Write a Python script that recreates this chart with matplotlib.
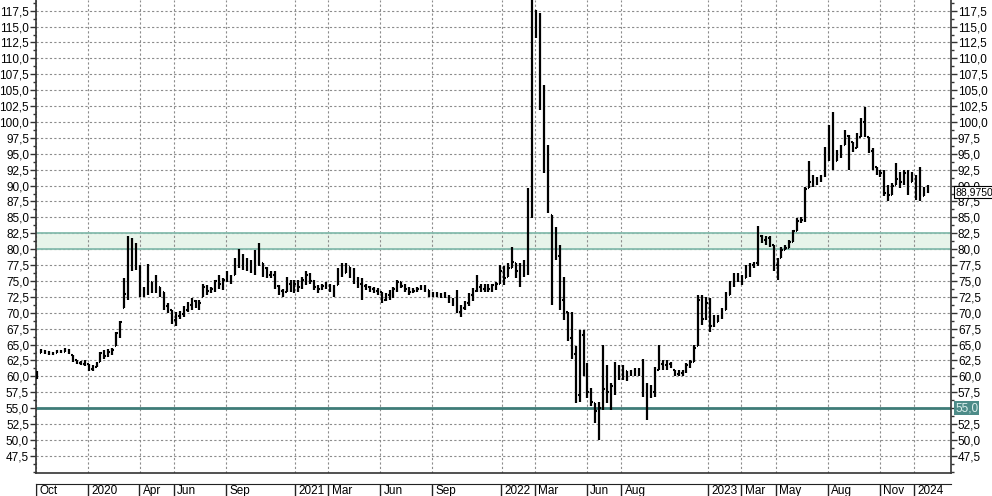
import numpy as np
import pandas as pd
import matplotlib
matplotlib.use("Agg")
import matplotlib.pyplot as plt
import matplotlib.dates as mdates
import matplotlib.transforms as mtransforms
from matplotlib.ticker import MultipleLocator, FixedLocator, FuncFormatter

# weekly OHLC bars, Oct 2019 -> Jan 2024
first_week = "2019-10-03"

opens = [
    60.2, 60.5, 64.0, 63.8, 63.6, 63.5, 64.0, 63.9, 64.2, 63.7,
    62.5, 62.1, 62.0, 62.2, 61.2, 61.5, 62.0, 63.6, 63.2, 63.9,
    64.2, 66.8, 68.5, 73.0, 80.5, 78.0, 77.0, 73.5, 73.8, 75.0,
    74.5, 74.0, 73.5, 71.0, 70.5, 68.8, 69.5, 69.8, 70.5, 71.2,
    71.8, 71.5, 71.5, 74.0, 73.5, 73.8, 75.0, 74.5, 75.2, 75.5,
    75.5, 78.0, 78.5, 77.5, 78.0, 76.8, 79.5, 78.0, 77.0, 76.0,
    76.0, 74.2, 73.5, 73.2, 74.5, 74.0, 74.5, 74.0, 75.2, 76.0,
    75.0, 74.0, 73.8, 74.2, 74.0, 73.6, 74.2, 76.5, 76.2, 77.2,
    75.8, 75.5, 74.5, 74.2, 74.0, 73.8, 73.5, 73.2, 72.0, 72.8,
    72.5, 73.8, 74.8, 74.2, 73.8, 73.2, 73.5, 73.8, 74.0, 73.6,
    72.8, 73.0, 72.8, 72.6, 72.5, 71.8, 71.2, 70.2, 70.8, 71.5,
    72.8, 73.5, 74.0, 73.8, 74.2, 73.8, 74.3, 74.5, 76.5, 75.5,
    77.0, 78.0, 76.5, 76.0, 77.5, 88.5, 113.5, 114.5, 105.5, 93.0,
    86.5, 80.0, 79.0, 72.0, 70.5, 66.0, 63.5, 57.0, 66.5, 61.0,
    57.5, 56.0, 54.5, 55.0, 58.0, 57.5, 58.5, 61.5, 60.0, 61.0,
    60.5, 60.8, 61.0, 60.5, 58.0, 57.0, 57.5, 61.0, 62.0, 61.8,
    62.0, 61.5, 60.3, 60.5, 60.8, 61.8, 62.3, 64.5, 72.0, 69.0,
    71.5, 68.0, 68.5, 69.5, 70.5, 72.8, 74.3, 75.5, 75.8, 75.2,
    77.0, 77.5, 77.8, 82.0, 81.5, 81.8, 80.8, 77.5, 78.2, 79.8,
    80.2, 81.2, 82.8, 84.5, 84.6, 89.5, 90.5, 90.2, 91.0, 91.5,
    95.5, 99.0, 93.5, 95.0, 95.8, 97.8, 97.0, 95.8, 97.5, 100.0,
    98.0, 95.5, 93.0, 92.0, 92.0, 88.8, 88.5, 90.0, 91.0, 90.5,
    92.0, 90.2, 91.0, 88.0, 88.2, 89.5,
]
highs = [
    60.8, 64.3, 64.1, 64.0, 63.8, 64.2, 64.1, 64.4, 64.3, 63.4,
    62.6, 62.4, 62.6, 61.9, 61.8, 62.3, 63.9, 64.2, 64.3, 64.4,
    67.0, 68.7, 75.4, 82.0, 81.7, 80.9, 77.5, 74.1, 77.6, 74.9,
    76.0, 74.1, 73.3, 71.5, 70.4, 70.2, 70.3, 71.0, 71.7, 72.3,
    72.0, 72.0, 74.6, 74.4, 74.1, 75.2, 75.9, 75.4, 76.5, 75.9,
    78.6, 80.0, 79.2, 78.6, 78.3, 79.9, 80.9, 77.8, 77.2, 76.5,
    76.5, 74.4, 73.8, 75.7, 75.2, 75.2, 75.2, 75.7, 76.5, 76.2,
    75.2, 74.4, 74.6, 74.9, 74.6, 74.4, 77.0, 77.8, 77.8, 77.2,
    77.0, 75.7, 75.4, 74.6, 74.2, 74.1, 73.9, 73.3, 73.1, 73.6,
    74.1, 75.2, 74.9, 74.6, 74.1, 73.9, 74.1, 74.4, 74.4, 73.6,
    73.3, 73.3, 73.1, 73.3, 72.8, 72.3, 73.6, 71.2, 71.8, 73.1,
    73.9, 76.0, 74.6, 74.6, 74.6, 74.6, 74.9, 77.5, 77.3, 77.8,
    80.4, 77.8, 77.8, 78.3, 89.6, 121.0, 117.6, 117.1, 105.8, 96.4,
    85.4, 83.5, 80.7, 75.7, 70.2, 70.2, 64.7, 67.3, 67.3, 62.1,
    58.1, 55.8, 56.0, 64.9, 61.8, 58.9, 62.3, 61.8, 61.8, 60.8,
    61.0, 61.3, 61.3, 62.8, 58.9, 58.6, 61.5, 64.9, 62.6, 62.6,
    62.3, 61.0, 61.0, 61.0, 62.1, 62.6, 64.9, 72.8, 72.8, 72.5,
    72.3, 69.7, 69.7, 70.7, 73.3, 75.0, 76.2, 76.2, 75.9, 77.5,
    77.8, 78.0, 83.6, 82.2, 82.0, 82.0, 80.7, 78.6, 80.4, 80.7,
    81.5, 83.0, 84.9, 85.1, 89.8, 93.8, 91.7, 91.4, 91.7, 96.1,
    99.5, 101.6, 95.6, 96.4, 98.7, 98.0, 96.9, 98.2, 100.6, 102.4,
    97.7, 95.9, 93.0, 92.5, 92.5, 90.1, 90.4, 93.5, 92.2, 92.5,
    92.5, 92.2, 91.7, 93.0, 89.8, 90.1,
]
lows = [
    59.6, 63.6, 63.5, 63.3, 63.3, 63.6, 63.6, 63.8, 63.5, 62.3,
    61.9, 61.8, 61.7, 60.9, 60.9, 61.4, 62.3, 62.8, 63.1, 63.3,
    64.7, 66.0, 70.7, 72.0, 76.5, 76.7, 72.5, 72.5, 72.8, 73.1,
    73.1, 72.5, 70.4, 69.9, 68.2, 68.0, 69.1, 69.4, 70.2, 70.4,
    70.7, 70.4, 72.5, 72.8, 73.1, 73.3, 73.8, 73.6, 74.9, 74.6,
    75.9, 77.0, 76.7, 76.5, 76.2, 76.0, 77.3, 75.7, 75.4, 75.4,
    73.8, 72.8, 72.5, 73.3, 73.3, 73.1, 73.3, 73.8, 74.4, 74.6,
    73.6, 73.1, 73.6, 73.8, 73.3, 72.5, 74.4, 75.7, 76.2, 75.4,
    74.6, 73.9, 72.0, 73.6, 73.3, 73.1, 72.8, 71.5, 71.8, 72.0,
    72.3, 73.3, 73.9, 73.3, 72.8, 73.1, 73.3, 73.6, 73.3, 72.5,
    72.5, 72.5, 72.3, 72.3, 71.5, 71.0, 69.9, 69.4, 70.5, 71.0,
    71.8, 73.3, 73.3, 73.3, 73.3, 73.3, 73.6, 74.6, 74.4, 75.7,
    77.0, 75.4, 74.1, 75.7, 76.0, 84.9, 113.2, 101.9, 92.0, 85.7,
    71.2, 78.3, 70.5, 68.9, 65.5, 62.8, 55.8, 56.0, 60.0, 56.6,
    55.3, 52.6, 50.0, 54.7, 55.8, 54.7, 57.1, 59.4, 59.4, 59.2,
    60.0, 60.0, 60.0, 56.8, 53.2, 56.6, 56.8, 61.0, 61.0, 61.0,
    61.3, 60.0, 60.0, 60.0, 60.5, 61.3, 62.3, 64.7, 68.1, 68.9,
    67.0, 67.8, 68.6, 69.1, 70.4, 72.8, 74.1, 74.9, 74.4, 75.4,
    75.7, 77.0, 77.3, 80.9, 80.7, 80.4, 76.5, 75.2, 78.6, 79.9,
    80.2, 81.2, 82.8, 84.1, 84.3, 89.6, 89.8, 90.1, 90.6, 91.4,
    93.8, 92.5, 93.8, 94.3, 96.4, 92.5, 95.3, 95.9, 97.7, 97.7,
    95.1, 92.5, 91.7, 91.4, 88.3, 87.5, 88.5, 90.1, 89.6, 90.1,
    88.5, 90.6, 87.7, 87.5, 88.3, 88.8,
]
closes = [
    60.5, 64.0, 63.8, 63.6, 63.5, 64.0, 63.9, 64.2, 63.7, 62.5,
    62.1, 62.0, 62.2, 61.2, 61.5, 62.0, 63.6, 63.2, 63.9, 64.2,
    66.8, 68.5, 73.0, 80.5, 78.0, 77.0, 73.5, 73.8, 75.0, 74.5,
    74.0, 73.5, 71.0, 70.5, 68.8, 69.5, 69.8, 70.5, 71.2, 71.8,
    71.5, 71.5, 74.0, 73.5, 73.8, 75.0, 74.5, 75.2, 75.5, 75.5,
    78.0, 78.5, 77.5, 78.0, 76.8, 79.5, 78.0, 77.0, 76.0, 76.0,
    74.2, 73.5, 73.2, 74.5, 74.0, 74.5, 74.0, 75.2, 76.0, 75.0,
    74.0, 73.8, 74.2, 74.0, 73.6, 74.2, 76.5, 76.2, 77.2, 75.8,
    75.5, 74.5, 74.2, 74.0, 73.8, 73.5, 73.2, 72.0, 72.8, 72.5,
    73.8, 74.8, 74.2, 73.8, 73.2, 73.5, 73.8, 74.0, 73.6, 72.8,
    73.0, 72.8, 72.6, 72.5, 71.8, 71.2, 70.2, 70.8, 71.5, 72.8,
    73.5, 74.0, 73.8, 74.2, 73.8, 74.3, 74.5, 76.5, 75.5, 77.0,
    78.0, 76.5, 76.0, 77.5, 88.5, 113.5, 114.5, 105.5, 93.0, 86.5,
    80.0, 79.0, 72.0, 70.5, 66.0, 63.5, 57.0, 66.5, 61.0, 57.5,
    56.0, 54.5, 55.0, 58.0, 57.5, 58.5, 61.5, 60.0, 61.0, 60.5,
    60.8, 61.0, 60.5, 58.0, 57.0, 57.5, 61.0, 62.0, 61.8, 62.0,
    61.5, 60.3, 60.5, 60.8, 61.8, 62.3, 64.5, 72.0, 69.0, 71.5,
    68.0, 68.5, 69.5, 70.5, 72.8, 74.3, 75.5, 75.8, 75.2, 77.0,
    77.5, 77.8, 82.0, 81.5, 81.8, 80.8, 77.5, 78.2, 79.8, 80.2,
    81.2, 82.8, 84.5, 84.6, 89.5, 90.5, 90.2, 91.0, 91.5, 95.5,
    99.0, 93.5, 95.0, 95.8, 97.8, 97.0, 95.8, 97.5, 100.0, 98.0,
    95.5, 93.0, 92.0, 92.0, 88.8, 88.5, 90.0, 91.0, 90.5, 92.0,
    90.2, 91.0, 88.0, 88.2, 89.5, 88.975,
]

month_marks = ["2019-10-01", "2020-01-01", "2020-04-01", "2020-06-01", "2020-09-01",
               "2021-01-01", "2021-03-01", "2021-06-01", "2021-09-01",
               "2022-01-01", "2022-03-01", "2022-06-01", "2022-08-01",
               "2023-01-01", "2023-03-01", "2023-05-01", "2023-08-01", "2023-11-01",
               "2024-01-01"]
month_labels = ["Oct", "2020", "Apr", "Jun", "Sep", "2021", "Mar", "Jun", "Sep",
                "2022", "Mar", "Jun", "Aug", "2023", "Mar", "May", "Aug", "Nov", "2024"]

price_ticks = [47.5, 50.0, 52.5, 55.0, 57.5, 60.0, 62.5, 65.0, 67.5, 70.0, 72.5, 75.0,
               77.5, 80.0, 82.5, 85.0, 87.5, 90.0, 92.5, 95.0, 97.5, 100.0, 102.5,
               105.0, 107.5, 110.0, 112.5, 115.0, 117.5]

last_price = 88.975
support = 55.0
zone_low, zone_high = 80.0, 82.5

plt.rcParams['font.family'] = ['Liberation Sans', 'DejaVu Sans']

dates = mdates.date2num(pd.date_range(first_week, periods=len(closes), freq="7D"))
highs = np.array(highs)
lows = np.array(lows)
opens = np.clip(opens, lows, highs)
closes = np.array(closes)
marks = mdates.date2num(pd.to_datetime(month_marks))

x0 = dates[0] - 1.8
x1 = dates[0] + 1615.7

fig = plt.figure(figsize=(9.92, 4.96), dpi=100)
ax = fig.add_axes([36 / 992, 23 / 496, 915 / 992, 473 / 496])

# support / resistance
ax.axhspan(zone_low, zone_high, color="#e7f4ea", zorder=0)
ax.axhline(zone_low, color="#86bcae", lw=1.3, zorder=1)
ax.axhline(zone_high, color="#86bcae", lw=1.3, zorder=1)
ax.axhline(support, color="#3f7c78", lw=2.0, zorder=1)

# bars
ax.vlines(dates, lows, highs, color="black", lw=1.6, zorder=3)
ax.hlines(opens, dates - 2.3, dates, color="black", lw=1.5, zorder=3)
ax.hlines(closes, dates, dates + 2.3, color="black", lw=1.5, zorder=3)

ax.set_xlim(x0, x1)
ax.set_ylim(44.81, 119.18)

ax.yaxis.set_major_locator(FixedLocator(price_ticks))
ax.yaxis.set_minor_locator(MultipleLocator(1.25))
ax.yaxis.set_major_formatter(FuncFormatter(lambda v, p: f"{v:.1f}".replace(".", ",")))
ax.tick_params(axis="y", which="major", left=True, right=True, labelleft=True,
               labelright=True, length=4, width=1, labelsize=8.5, pad=1,
               color="#333333")
ax.tick_params(axis="y", which="minor", left=True, right=True, length=2, width=1,
               color="#333333")
ax.set_xticks(marks)
ax.tick_params(axis="x", length=0, labelbottom=False)
ax.grid(True, which="major", color="#8c8c8c", lw=0.8, ls=(0, (2, 2)))
ax.set_axisbelow(True)

# the right-hand 55,0 is replaced by the highlighted marker label
for val, tick in zip(price_ticks, ax.yaxis.get_major_ticks()):
    if val == support:
        tick.label2.set_visible(False)

for side in ["left", "right", "bottom"]:
    ax.spines[side].set_color("#333333")
    ax.spines[side].set_linewidth(1.2)
ax.spines["top"].set_visible(False)

trans = mtransforms.blended_transform_factory(ax.transAxes, ax.transData)
ax.text(1.0045, last_price, "88,9750", transform=trans, va="center", ha="left",
        fontsize=7.5, bbox=dict(boxstyle="square,pad=0.1", fc="white", ec="black", lw=0.8),
        zorder=5, clip_on=False)
ax.text(1.0045, support, "55,0", transform=trans, va="center", ha="left",
        fontsize=8.5, color="#dcefed",
        bbox=dict(boxstyle="square,pad=0.1", fc="#4d8b88", ec="none"),
        zorder=5, clip_on=False)

# date strip at the bottom
strip = fig.add_axes([36 / 992, 0, 915 / 992, 12 / 496])
strip.set_xlim(x0, x1)
strip.set_ylim(0, 1)
strip.set_xticks([])
strip.set_yticks([])
for side in ["bottom", "right"]:
    strip.spines[side].set_visible(False)
strip.spines["top"].set_color("#222222")
strip.spines["left"].set_color("#222222")
strip.vlines(marks, 0, 1, color="#222222", lw=1.0)
for m, lab in zip(marks, month_labels):
    strip.text(m + 6, 0.4, lab, fontsize=8.5, va="center", ha="left")

fig.savefig("out.png", dpi=100)
